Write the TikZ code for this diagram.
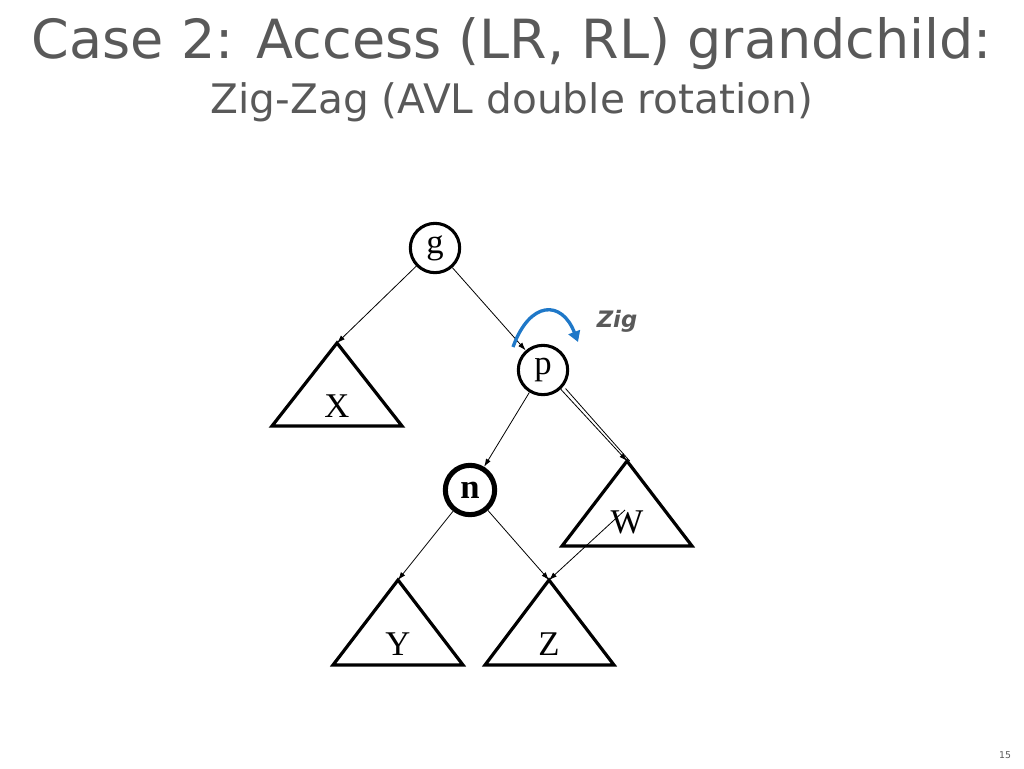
\documentclass[tikz,border=0pt]{standalone}
\usepackage{fontspec}
\setmainfont{Liberation Serif}
\newfontfamily\titlefont{DejaVu Sans}
\usetikzlibrary{arrows.meta}
\definecolor{tgray}{HTML}{595959}
\definecolor{zblue}{HTML}{1F78C8}
\begin{document}
\begin{tikzpicture}[x=0.75pt,y=-0.75pt,
  nd/.style={circle,draw,line width=2.3pt,minimum size=37pt,inner sep=0pt,font=\fontsize{26}{26}\selectfont},
  edge/.style={-{Latex[length=6pt,width=4pt]},line width=0.6pt},
  tri/.style={draw,line width=2.4pt,line join=miter},
  tl/.style={font=\fontsize{26}{26}\selectfont}]
\useasboundingbox (0,0) rectangle (1024,768);
\node[text=tgray,font=\titlefont\fontsize{40.5}{44}\selectfont] (t1) at (512,44) {Case 2: Access (LR, RL) grandchild:};
\node[text=tgray,font=\titlefont\fontsize{30.5}{32}\selectfont] (t2) at (512,102) {Zig-Zag (AVL double rotation)};
\node[nd] (g) at (435,248) {g};
\node[nd] (p) at (543,370) {p};
\node[nd,line width=3.8pt,font=\fontsize{26}{26}\selectfont\bfseries] (n) at (470,490) {n};
\draw[tri] (337,343) -- (272,426) -- (402,426) -- cycle;
\draw[tri] (627,461) -- (562,546) -- (692,546) -- cycle;
\draw[tri] (398,580) -- (333,665) -- (463,665) -- cycle;
\draw[tri] (549,580) -- (485,665) -- (614,665) -- cycle;
\coordinate (xa) at (337,343);
\coordinate (wa) at (627,461);
\coordinate (ya) at (398,580);
\coordinate (za) at (549,580);
\coordinate (wl) at (625,510);
\node[tl] (X) at (337,406) {X};
\node[tl] (W) at (627,522) {W};
\node[tl] (Y) at (398,644) {Y};
\node[tl] (Z) at (549,644) {Z};
\draw[edge] (g) -- (xa);
\draw[edge] (g) -- (p);
\draw[edge] (p) -- (n);
\draw[edge] (p) -- (wa);
\draw[line width=0.6pt] ([xshift=3pt]p.-45) -- ([xshift=2pt]wa);
\draw[edge] (n) -- (ya);
\draw[edge] (n) -- (za);
\draw[edge] (wl) -- (za);
\draw[zblue,line width=2.5pt,-{Triangle[length=8pt,width=9pt]}] (513,347) .. controls (530,300) and (562,300) .. (578,342);
\node[text=tgray,font=\titlefont\fontsize{17}{18}\selectfont\bfseries\itshape] (zig) at (617,321) {Zig};
\node[text=tgray,font=\titlefont\fontsize{7}{8}\selectfont] (pg) at (1005,755) {15};
\end{tikzpicture}
\end{document}
